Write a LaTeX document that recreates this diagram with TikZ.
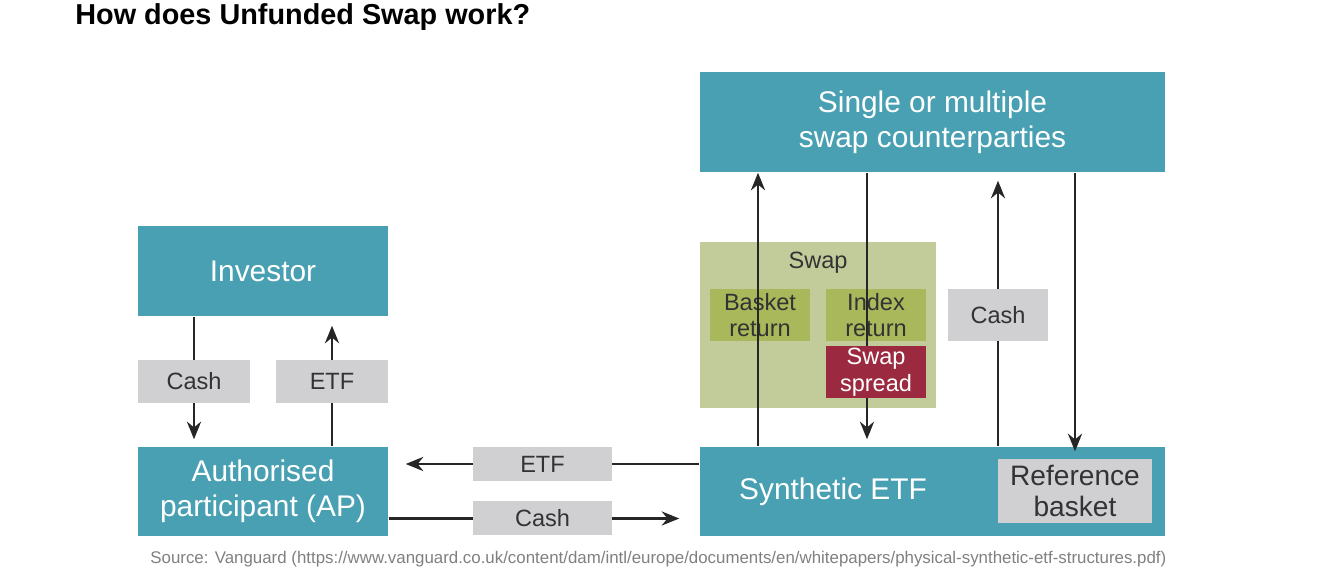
\documentclass[tikz,border=0pt]{standalone}
\usepackage{fontspec}
\setmainfont{Liberation Sans}
\usetikzlibrary{arrows.meta,calc}
\tikzset {>=Stealth}
\definecolor{teal}{HTML}{48A0B2}
\definecolor{swapbg}{HTML}{C2CB9A}
\definecolor{olive}{HTML}{A8B85A}
\definecolor{crim}{HTML}{9B2A40}
\definecolor{lgrey}{HTML}{D0D0D2}
\tikzset{
  bigbox/.style={fill=teal,text=white,inner sep=0pt,align=center,font=\fontsize{8.5}{10}\selectfont},
  tag/.style={fill=lgrey,text=black!80,inner sep=0pt,align=center,font=\fontsize{6.7}{7.6}\selectfont},
  flow/.style={->,thick,black!85,>={Stealth[length=5pt,width=4pt]}}
}

\begin{document}
\begin{tikzpicture}
\useasboundingbox (0,0) rectangle (13.2,5.75);
\node[anchor=west,font=\bfseries\fontsize{8.2}{10}\selectfont] (title) at (0.63,5.58) {How does Unfunded Swap work?};
% main boxes
\node[bigbox,minimum width=4.65cm,minimum height=1cm] (cp) at (9.325,4.53) {Single or multiple\\swap counterparties};
\node[bigbox,minimum width=2.5cm,minimum height=0.9cm] (inv) at (2.63,3.04) {Investor};
\node[bigbox,minimum width=2.5cm,minimum height=0.89cm] (ap) at (2.63,0.835) {Authorised\\participant (AP)};
\node[bigbox,minimum width=4.65cm,minimum height=0.89cm] (etf) at (9.325,0.835) {};
\node[text=white,font=\fontsize{8.5}{10}\selectfont] (etftxt) at (8.33,0.835) {Synthetic ETF};
\node[tag,minimum width=1.54cm,minimum height=0.64cm,font=\fontsize{8}{9}\selectfont] (ref) at (10.75,0.84) {Reference\\basket};
% swap block
\node[fill=swapbg,minimum width=2.36cm,minimum height=1.66cm,inner sep=0pt] (swap) at (8.18,2.5) {};
\node[font=\fontsize{6.7}{8}\selectfont,text=black!80] (swaptxt) at (8.18,3.12) {Swap};
\node[tag,fill=olive,minimum width=1cm,minimum height=0.52cm] (basket) at (7.6,2.6) {Basket\\return};
\node[tag,fill=olive,minimum width=1cm,minimum height=0.52cm] (index) at (8.76,2.6) {Index\\return};
% arrows
\draw[flow] (etf.north -| 7.58,0) -- (cp.south -| 7.58,0);
\draw[flow,shorten >=0.07cm] (cp.south -| 8.67,0) -- (etf.north -| 8.67,0);
\draw[flow,shorten >=0.08cm] (etf.north -| 9.98,0) -- (cp.south -| 9.98,0);
\draw[flow,shorten >=0.07cm] (cp.south -| ref) -- (ref.north);
\draw[flow,shorten >=0.07cm] (inv.south -| 1.94,0) -- (ap.north -| 1.94,0);
\draw[flow,shorten >=0.09cm] (ap.north -| 3.32,0) -- (inv.south -| 3.32,0);
\draw[flow,shorten >=0.17cm] (etf.west |- 0,1.11) -- (ap.east |- 0,1.11);
\draw[flow,shorten >=0.2cm] (ap.east |- 0,0.565) -- (etf.west |- 0,0.565);
% labels on the arrows
\node[tag,fill=crim,text=white,minimum width=1cm,minimum height=0.52cm] (spread) at (8.76,2.03) {Swap\\spread};
\node[tag,minimum width=1cm,minimum height=0.52cm] (cashR) at (9.98,2.6) {Cash};
\node[tag,minimum width=1.12cm,minimum height=0.43cm] (cashL) at (1.94,1.935) {Cash};
\node[tag,minimum width=1.12cm,minimum height=0.43cm] (etfL) at (3.32,1.935) {ETF};
\node[tag,minimum width=1.39cm,minimum height=0.34cm] (etfM) at (5.425,1.11) {ETF};
\node[tag,minimum width=1.39cm,minimum height=0.34cm] (cashM) at (5.425,0.565) {Cash};
\node[anchor=west,text=black!50,font=\fontsize{4.8}{6}\selectfont] (src) at (1.38,0.16) {Source: Vanguard (https://www.vanguard.co.uk/content/dam/intl/europe/documents/en/whitepapers/physical-synthetic-etf-structures.pdf)};
\end{tikzpicture}
\end{document}
